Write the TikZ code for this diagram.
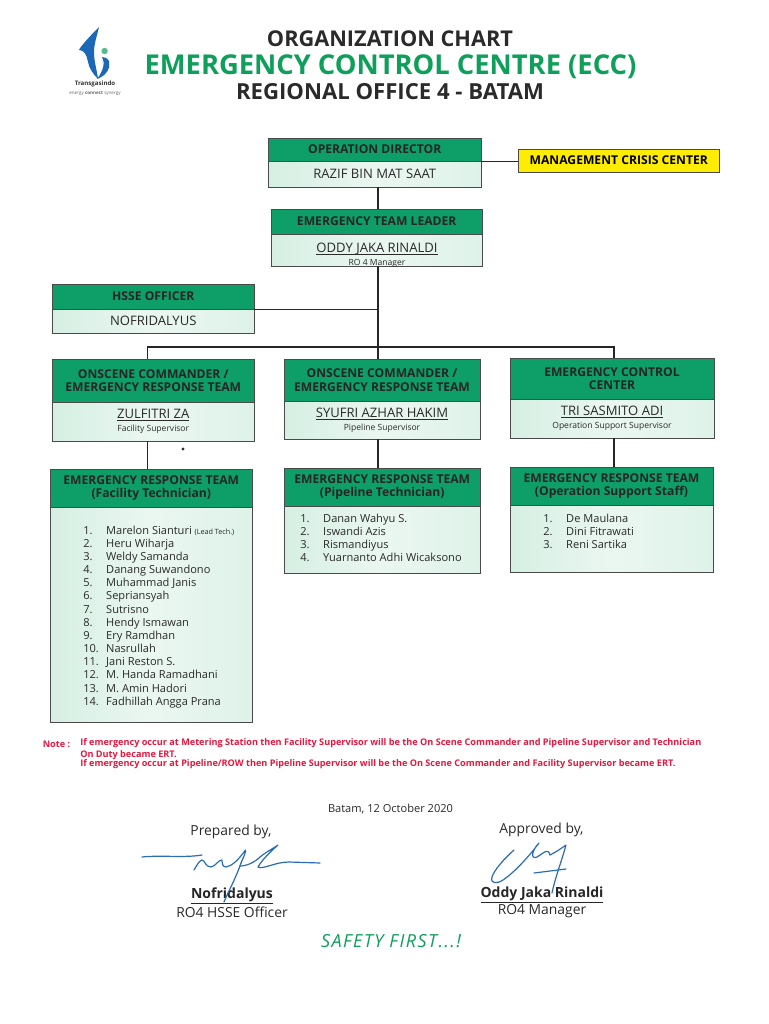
\documentclass[tikz,border=0pt]{standalone}
\usepackage{fontspec}
\setmainfont{Open Sans}
\usetikzlibrary{calc}
\definecolor{hdrgreen}{HTML}{0E9E68}
\definecolor{bodygreen}{HTML}{D6EFE3}
\definecolor{titlegreen}{HTML}{0E9F5A}
\definecolor{inkdark}{HTML}{2A2A2A}
\definecolor{notered}{HTML}{E8173F}
\definecolor{penblue}{HTML}{2A6DB5}
\definecolor{logoblue}{HTML}{1C68B8}
\definecolor{boxline}{HTML}{4A4A4A}
\tikzset{
  hdrbox/.style={draw=boxline,line width=.7pt,fill=hdrgreen,inner sep=0pt,align=center,text=black!85,font=\bfseries\fontsize{9.1}{10}\selectfont},
  bodybox/.style={draw=boxline,line width=.7pt,left color=bodygreen,right color=bodygreen!80,middle color=bodygreen!50,inner sep=0pt,align=center,text=inkdark,font=\fontsize{9.8}{11}\selectfont},
  bodytext/.style={inner sep=0pt,align=center,text=inkdark,font=\fontsize{9.8}{11}\selectfont},
  crisisbox/.style={draw=boxline,line width=.7pt,fill=yellow!95!orange,inner sep=0pt,align=center,text=black,font=\bfseries\fontsize{9.1}{10}\selectfont},
  link/.style={draw=black!85,line width=.8pt},
  listtext/.style={anchor=north west,inner sep=0pt,align=left,text=inkdark,font=\fontsize{8.3}{9.87}\selectfont},
  note/.style={anchor=base west,inner sep=0pt,text=notered,font=\bfseries\fontsize{6.85}{8}\selectfont},
  sigtext/.style={inner sep=0pt,text=inkdark,font=\fontsize{10.4}{12}\selectfont},
  signame/.style={inner sep=0pt,text=black!85,font=\bfseries\fontsize{10.5}{12}\selectfont},
  pen/.style={draw=penblue,line width=.9pt,line cap=round,line join=round},
}
\newcommand{\rectnode}[7]{\node[#1,minimum width={(#4-#3)*0.75pt},minimum height={(#6-#5)*0.75pt}] (#2) at ({(#3+#4)/2},{(#5+#6)/2}) {#7};}
\newcommand{\lnum}[1]{\makebox[17.2pt][l]{#1}}
\newcommand{\subline}[1]{{\fontsize{6.4}{7}\selectfont #1}}
\newcommand{\nameul}[1]{\underline{\smash{#1}}\vphantom{A}}
\begin{document}
\begin{tikzpicture}[x=.75pt,y=-.75pt]
\useasboundingbox (0,0) rectangle (768,1024);
\fill[white] (0,0) rectangle (768,1024);
% logo
\fill[logoblue] (99,27) .. controls (90,36) and (80,47) .. (79,50) .. controls (84,50) and (87,55) .. (88,62) .. controls (89,68) and (93,74) .. (98,79) .. controls (97,70) and (94,62) .. (94,52) .. controls (94,44) and (97,36) .. (99,27) -- cycle;
\fill[logoblue] (102,57) .. controls (105,62) and (104,70) .. (97,79) .. controls (106,76) and (111,68) .. (109,61) .. controls (107,58) and (105,57) .. (102,57) -- cycle;
\fill[titlegreen!70!white] (104.6,51) circle (3.2);
\node[inner sep=0pt,text=black!80,font=\bfseries\fontsize{4.6}{5}\selectfont] (logoname) at (95,84) {Transgasindo};
\node[inner sep=0pt,text=black!60,font=\fontsize{3.4}{4}\selectfont] (logotag) at (95,94) {energy \textbf{connect} synergy};
% titles
\node[inner sep=0pt,text=inkdark,font=\bfseries\fontsize{16.3}{18}\selectfont] (t1) at (390,39) {ORGANIZATION CHART};
\node[inner sep=0pt,text=titlegreen,font=\bfseries\fontsize{20.5}{22}\selectfont] (t2) at (390.5,67) {EMERGENCY CONTROL CENTRE (ECC)};
\node[inner sep=0pt,text=inkdark,font=\bfseries\fontsize{16.6}{18}\selectfont] (t3) at (390,92) {REGIONAL OFFICE 4 - BATAM};
% routing coordinates
\coordinate (trunk) at (378,347);
\coordinate (busL) at (147.4,347);
\coordinate (busR) at (614,347);
% boxes
\rectnode{hdrbox}{odh}{268.5}{481}{138}{161}{OPERATION DIRECTOR}
\rectnode{bodybox}{odb}{268.5}{481}{161}{187}{RAZIF BIN MAT SAAT}
\rectnode{crisisbox}{mcc}{518}{719.5}{149}{172}{MANAGEMENT CRISIS CENTER}
\rectnode{hdrbox}{etlh}{271.5}{482}{209}{234}{EMERGENCY TEAM LEADER}
\rectnode{bodybox}{etlb}{271.5}{482}{234}{266}{}
\node[bodytext] (etlt) at (377,255.5) {\nameul{ODDY JAKA RINALDI}\\[-1.25pt]\subline{RO 4 Manager}};
\rectnode{hdrbox}{hsh}{52.5}{254}{284}{309}{HSSE OFFICER}
\rectnode{bodybox}{hsb}{52.5}{254}{309}{333}{NOFRIDALYUS}
\rectnode{hdrbox}{c1h}{52}{254.5}{359}{402}{ONSCENE COMMANDER /\\EMERGENCY RESPONSE TEAM}
\rectnode{bodybox}{c1b}{52}{254.5}{402}{441}{\nameul{ZULFITRI ZA}\\[-1.25pt]\subline{Facility Supervisor}}
\rectnode{hdrbox}{c2h}{284}{480}{359}{401}{ONSCENE COMMANDER /\\EMERGENCY RESPONSE TEAM}
\rectnode{bodybox}{c2b}{284}{480}{401}{439}{\nameul{SYUFRI AZHAR HAKIM}\\[-1.25pt]\subline{Pipeline Supervisor}}
\rectnode{hdrbox}{c3h}{510}{714}{358}{399}{EMERGENCY CONTROL\\CENTER}
\rectnode{bodybox}{c3b}{510}{714}{399}{438}{\nameul{TRI SASMITO ADI}\\[-1.25pt]\subline{Operation Support Supervisor}}
\rectnode{hdrbox}{e1h}{50.5}{252}{469}{507}{EMERGENCY RESPONSE TEAM\\(Facility Technician)}
\rectnode{bodybox}{e1b}{50.5}{252}{507}{722}{}
\rectnode{hdrbox}{e2h}{284}{480.5}{468}{506}{EMERGENCY RESPONSE TEAM\\(Pipeline Technician)}
\rectnode{bodybox}{e2b}{284}{480.5}{506}{573}{}
\rectnode{hdrbox}{e3h}{510}{713}{467}{505}{EMERGENCY RESPONSE TEAM\\(Operation Support Staff)}
\rectnode{bodybox}{e3b}{510}{713}{505}{572}{}
% lists
\node[listtext] (l1) at (83,525.5) {\lnum{1.}Marelon Sianturi {\fontsize{5.4}{6}\selectfont(Lead Tech.)}\\\lnum{2.}Heru Wiharja\\\lnum{3.}Weldy Samanda\\\lnum{4.}Danang Suwandono\\\lnum{5.}Muhammad Janis\\\lnum{6.}Sepriansyah\\\lnum{7.}Sutrisno\\\lnum{8.}Hendy Ismawan\\\lnum{9.}Ery Ramdhan\\\lnum{10.}Nasrullah\\\lnum{11.}Jani Reston S.\\\lnum{12.}M. Handa Ramadhani\\\lnum{13.}M. Amin Hadori\\\lnum{14.}Fadhillah Angga Prana};
\node[listtext] (l2) at (300,513.5) {\lnum{1.}Danan Wahyu S.\\\lnum{2.}Iswandi Azis\\\lnum{3.}Rismandiyus\\\lnum{4.}Yuarnanto Adhi Wicaksono};
\node[listtext] (l3) at (543,513.5) {\lnum{1.}De Maulana\\\lnum{2.}Dini Fitrawati\\\lnum{3.}Reni Sartika};
% connectors
\draw[link] (odh.south east) -- (odh.south east -| mcc.west);
\draw[link] (trunk |- odb.south) -- (trunk |- etlh.north);
\draw[link] (trunk |- etlb.south) -- (trunk);
\draw[link] (hsh.south east) -- (trunk |- hsh.south east);
\draw[link] (busL |- c1h.north) -- (busL) -- (busR) -- (busR |- c3h.north);
\draw[link] (trunk) -- (trunk |- c2h.north);
\draw[link] (busL |- c1b.south) -- (busL |- e1h.north);
\draw[link] (trunk |- c2b.south) -- (trunk |- e2h.north);
\draw[link] (busR |- c3b.south) -- (busR |- e3h.north);
% note
\node[note] (nl) at (42.5,747) {Note :};
\node[note] (n1) at (80,745.5) {If emergency occur at Metering Station then Facility Supervisor will be the On Scene Commander and Pipeline Supervisor and Technician};
\node[note] (n2) at (80,757) {On Duty became ERT.};
\node[note] (n3) at (80,766.5) {If emergency occur at Pipeline/ROW then Pipeline Supervisor will be the On Scene Commander and Facility Supervisor became ERT.};
% signing block
\node[inner sep=0pt,text=inkdark,font=\fontsize{8.3}{10}\selectfont] (date) at (390.5,809) {Batam, 12 October 2020};
\node[sigtext] (prep) at (231,832) {Prepared by,};
\node[sigtext] (appr) at (541.5,830) {Approved by,};
\node[signame] (n1name) at (232,896) {\underline{Nofridalyus}};
\node[sigtext] (n1role) at (232,912) {RO4 HSSE Officer};
\node[signame] (n2name) at (542,895) {\underline{Oddy Jaka Rinaldi}};
\node[sigtext] (n2role) at (542,911) {RO4 Manager};
\node[inner sep=0pt,text=titlegreen,font=\itshape\fontsize{13.5}{15}\selectfont\addfontfeature{LetterSpace=8}] (safe) at (391,941) {SAFETY FIRST...!};
% signatures
\draw[pen] (142,857) .. controls (160,855) and (185,858) .. (202,855);
\draw[pen] (194,870) .. controls (197,865) and (199,861) .. (202,860) .. controls (205,860) and (205,867) .. (211,867) .. controls (216,866) and (218,860) .. (222,860) .. controls (222,864) and (223,867) .. (226,867) .. controls (232,866) and (238,860) .. (244,852) .. controls (247,847) and (246,852) .. (241,863);
\draw[pen] (241,863) .. controls (236,878) and (228,892) .. (224,902);
\draw[pen] (240,866) .. controls (247,866) and (255,862) .. (260,857) .. controls (266,852) and (274,848) .. (278,845) .. controls (270,852) and (262,860) .. (258,867) .. controls (262,870) and (275,862) .. (289,862) -- (320,863);
\draw[pen] (514,850) .. controls (505,858) and (494,870) .. (492,877) .. controls (490,884) and (497,884) .. (503,880) .. controls (515,872) and (530,855) .. (539,843) .. controls (532,850) and (530,860) .. (537,857) .. controls (545,852) and (548,848) .. (550,855) .. controls (556,852) and (562,848) .. (566,845) .. controls (562,860) and (555,878) .. (552,893);
\draw[pen] (534,873) -- (566,869);
% scanner speck
\fill[black!80] (183,449) circle (1.6);
\end{tikzpicture}
\end{document}
